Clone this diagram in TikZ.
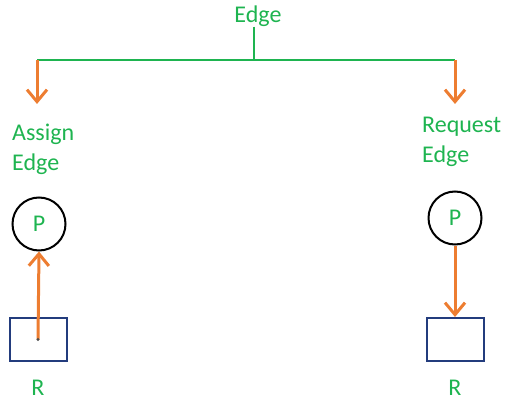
\documentclass[tikz,border=0pt]{standalone}
\usepackage{fontspec}
\setmainfont{Carlito}
\usetikzlibrary{arrows.meta,positioning}
\definecolor{edgegreen}{RGB}{30,180,80}
\definecolor{edgeorange}{RGB}{237,125,49}
\definecolor{resnavy}{RGB}{35,60,125}

\begin{document}
\begin{tikzpicture}
		[x=1pt, y=-1pt, inner sep=0pt,
		edgetext/.style		= {text=edgegreen, font=\fontsize{24}{30}\selectfont, align=left},
		smalltext/.style	= {text=edgegreen, font=\fontsize{24}{28}\selectfont},
		process/.style		= {draw, circle, line width=2pt, black, minimum size=53pt},
		resource/.style		= {draw, rectangle, line width=2pt, resnavy, minimum width=57pt, minimum height=43pt},
		tree/.style			= {draw, edgegreen, line width=2pt},
		arrow/.style		= {draw, edgeorange, line width=3pt, -{Straight Barb[length=12pt, width=20pt, line width=3pt]}}]
		
		\useasboundingbox (0,0) rectangle (511,406);
		
		\node [edgetext]	at (258,16)		(edge)		{Edge};
		\coordinate (split)		at (254,60);
		\coordinate (lefttop)	at (37,60);
		\coordinate (righttop)	at (455,60);
		\coordinate (lefttip)	at (37,104);
		\coordinate (righttip)	at (455,104);
		
		\node [edgetext, anchor=north west]	at (12,124)	(assign)	{Assign\\Edge};
		\node [edgetext, anchor=north west]	at (422,117)	(request)	{Request\\Edge};
		
		\node [process]		at (39,224)		(pl)	{};
		\node [smalltext]	at (39,224)		(plt)	{P};
		\node [process]		at (455,218)	(pr)	{};
		\node [smalltext]	at (455,218)	(prt)	{P};
		
		\node [resource]	at (38,339.5)	(rl)	{};
		\node [resource]	at (455,339.5)	(rr)	{};
		\node [smalltext]	[below = 18pt of rl]	(rlt)	{R};
		\node [smalltext]	[below = 18pt of rr]	(rrt)	{R};
		
		\draw [tree] (split |- edge.south) -- (split);
		\draw [tree] (lefttop) -- (righttop);
		\draw [arrow] (lefttop) -- (lefttip);
		\draw [arrow] (righttop) -- (righttip);
		
		\draw [arrow] (rl.center) -- (pl.south);
		\draw [arrow] (pr.south) -- (rr.north);
		\fill [black!70] (rl.center) circle (1.6pt);
\end{tikzpicture}
\end{document}
